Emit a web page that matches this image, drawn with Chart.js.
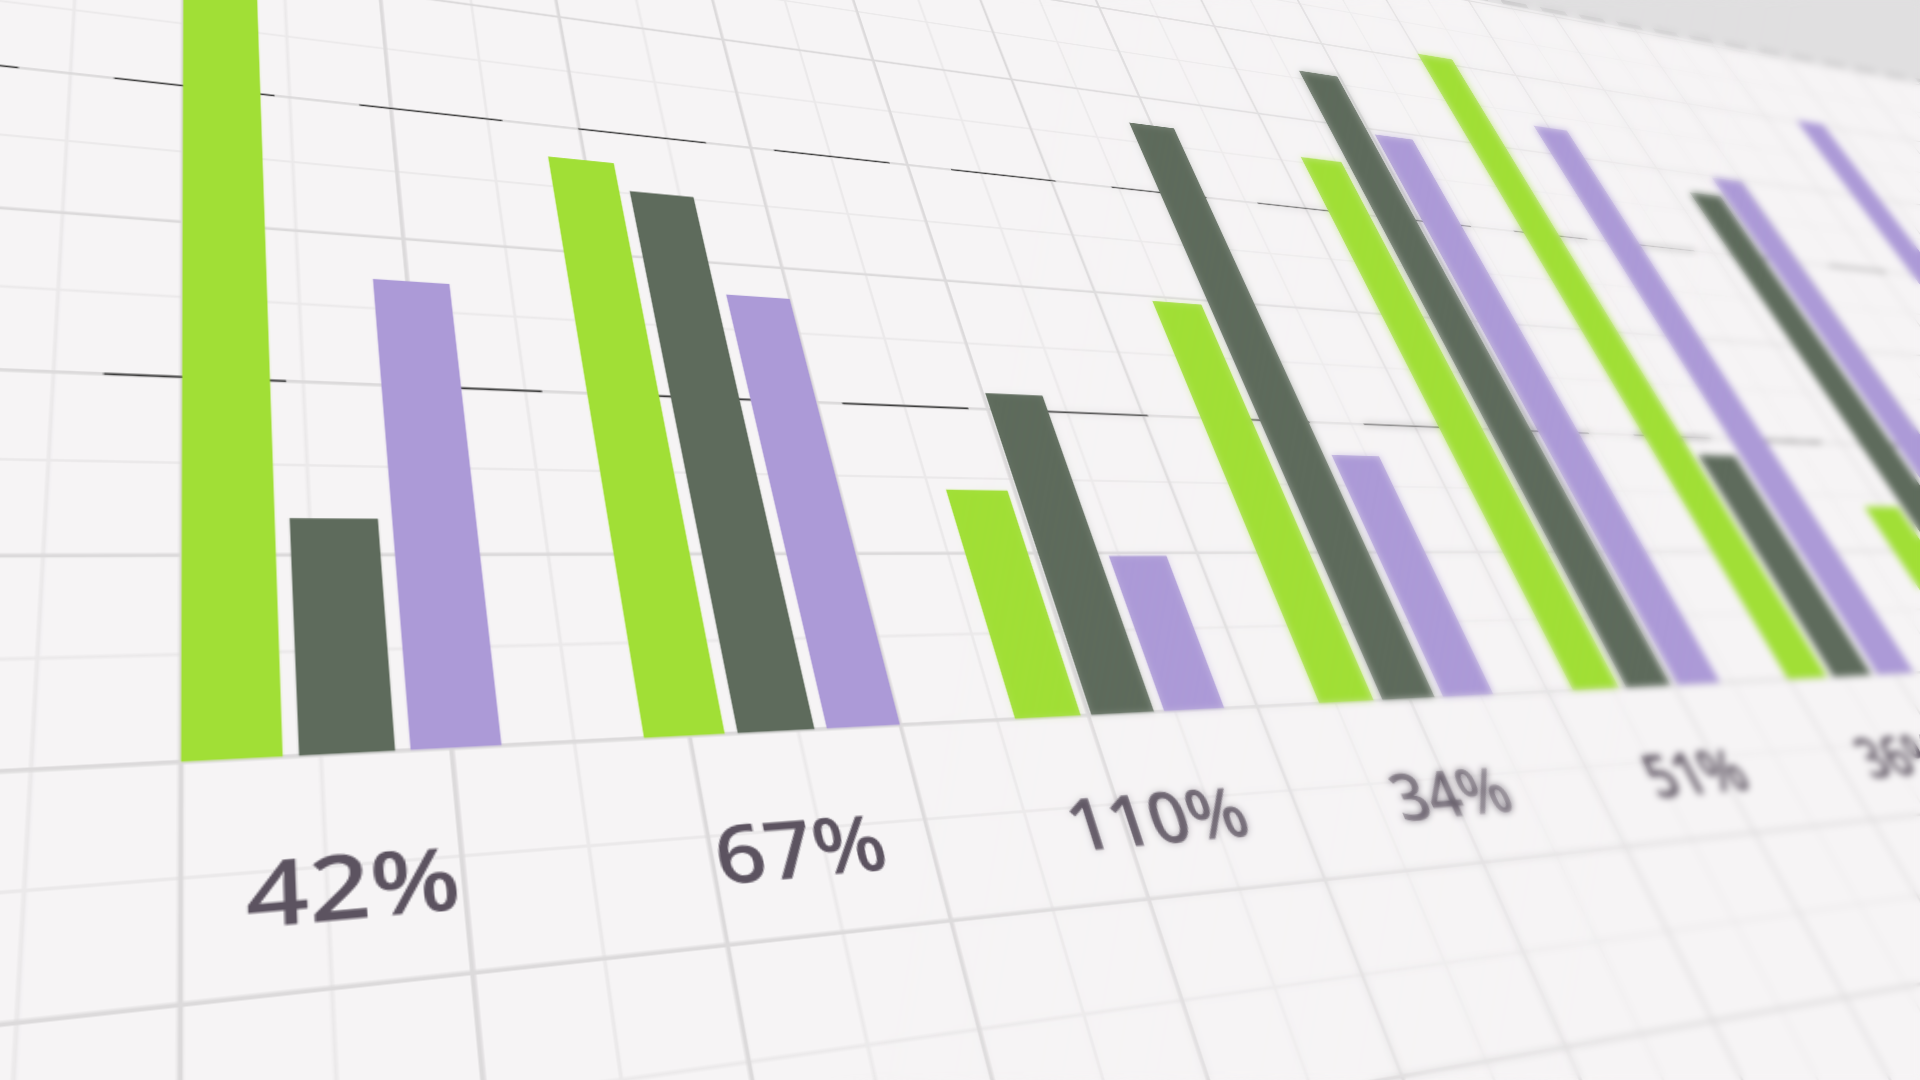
<!DOCTYPE html>
<html>
<head>
<meta charset="utf-8">
<title>Bar chart</title>
<script src="https://cdn.jsdelivr.net/npm/chart.js@4.4.1/dist/chart.umd.min.js"></script>
<style>
    html, body { margin: 0; width: 1920px; height: 1080px; overflow: hidden; background: #f3f2f3; }
    #plane { position: absolute; left: 0; top: 0; width: 2500px; height: 1575px; transform-origin: 0 0; }
    #dof {
        position: absolute; left: 0; top: 0; width: 1920px; height: 1080px; pointer-events: none;
        backdrop-filter: blur(3.5px);
        -webkit-mask-image: linear-gradient(100deg, transparent 48%, #000 86%);
        mask-image: linear-gradient(100deg, transparent 48%, #000 86%);
    }
</style>
</head>
<body>
<div id="plane"><canvas id="myChart" width="2500" height="1575"></canvas></div>
<div id="dof"></div>
<script>
const categories = ['42%', '67%', '110%', '34%', '51%', '36%', '58%', '73%'];
const greenValues = [290, 187, 71, 148, 228, 304, 70, 110];
const darkValues = [60, 176, 106, 235, 280, 92, 237, 140];
const lilacValues = [135, 138, 49, 87, 247, 267, 249, 301];
const dashedLevels = [100, 200];

// layout of the flat chart before it is tilted into the picture
const canvasW = 2500, canvasH = 1575;
const padLeft = 120, padRight = 460;
const yMin = -140, yMax = 450;
const catPct = 0.7, barPct = 0.86;
const gridStep = 0.278;          // background grid, in categories
const dashOn = 0.41, dashOff = 0.23, dashStart = -0.172;

// camera: vanishing points of the chart's horizontal and vertical lines,
// and where the bottom-left corner of the first bar lands on screen
const vpH = [4384, 545], vpV = [189, -2020], corner = [181, 762];
const pPerCat = 0.1238, qPerHundred = 0.1606;

function planeTransform() {
    const cat = (canvasW - padLeft - padRight) / categories.length;
    const step = cat * catPct / 3;
    const u0 = padLeft + cat / 2 - cat * catPct / 2 + (step - step * barPct) / 2;
    const pxPerUnit = canvasH / (yMax - yMin);
    const y0 = yMax * pxPerUnit;
    const g = pPerCat / cat;
    const h = -qPerHundred / (100 * pxPerUnit);
    const w0 = 1 - g * u0 - h * y0;
    const A = vpH[0] * g, B = vpV[0] * h, C = corner[0] - vpH[0] * g * u0 - vpV[0] * h * y0;
    const D = vpH[1] * g, E = vpV[1] * h, F = corner[1] - vpH[1] * g * u0 - vpV[1] * h * y0;
    const m = [A, D, 0, g, B, E, 0, h, 0, 0, 1, 0, C, F, 0, w0].map(v => v / w0);
    m[10] = 1;
    return 'matrix3d(' + m.join(',') + ')';
}

const paper = {
    id: 'paper',
    beforeDraw(chart) {
        const { ctx, scales: { x, y } } = chart;
        const bar = chart.getDatasetMeta(0).data[0];
        const cat = x.getPixelForValue(1) - x.getPixelForValue(0);
        const x0 = bar.x - bar.width / 2;
        ctx.save();
        ctx.fillStyle = '#f6f4f5';
        ctx.fillRect(0, 0, chart.width, chart.height);
        [['#ebe9ea', 2, 1], ['#dcdadb', 2.6, 0]].forEach(([color, width, odd]) => {
            ctx.strokeStyle = color;
            ctx.lineWidth = width;
            ctx.beginPath();
            for (let k = -12; k <= 24; k++) {
                if (Math.abs(k % 2) !== odd) continue;
                const py = y.getPixelForValue(k * 25);
                ctx.moveTo(0, py);
                ctx.lineTo(chart.width, py);
            }
            for (let k = -6; k <= 45; k++) {
                if (Math.abs(k % 2) !== odd) continue;
                const px = x0 + k * gridStep * cat;
                ctx.moveTo(px, 0);
                ctx.lineTo(px, chart.height);
            }
            ctx.stroke();
        });
        // grey edge of the sheet
        const edge = y.getPixelForValue(352);
        ctx.fillStyle = '#e0dfe0';
        ctx.fillRect(0, 0, chart.width, edge);
        ctx.strokeStyle = '#c6c5c6';
        ctx.lineWidth = 8;
        ctx.setLineDash([40, 22]);
        ctx.beginPath();
        ctx.moveTo(0, edge - 6);
        ctx.lineTo(chart.width, edge - 6);
        ctx.stroke();
        ctx.restore();
    },
    beforeDatasetsDraw(chart) {
        const { ctx, scales: { x, y } } = chart;
        const bar = chart.getDatasetMeta(0).data[0];
        const cat = x.getPixelForValue(1) - x.getPixelForValue(0);
        const period = (dashOn + dashOff) * cat;
        let start = bar.x - bar.width / 2 + dashStart * cat;
        start -= Math.ceil(start / period) * period;
        ctx.save();
        ctx.strokeStyle = '#3a3a3a';
        ctx.lineWidth = 1.6;
        ctx.setLineDash([dashOn * cat, dashOff * cat]);
        dashedLevels.forEach(level => {
            const py = y.getPixelForValue(level);
            ctx.beginPath();
            ctx.moveTo(start, py);
            ctx.lineTo(chart.width, py);
            ctx.stroke();
        });
        ctx.restore();
    }
};

document.addEventListener('DOMContentLoaded', () => {
    document.getElementById('plane').style.transform = planeTransform();

    const ctx = document.getElementById('myChart').getContext('2d');
    new Chart(ctx, {
        type: 'bar',
        data: {
            labels: categories,
            datasets: [
                { label: 'A', data: greenValues, backgroundColor: '#a1df36' },
                { label: 'B', data: darkValues, backgroundColor: '#5e6b5c' },
                { label: 'C', data: lilacValues, backgroundColor: '#ac9ad7' }
            ]
        },
        options: {
            responsive: false,
            animation: false,
            devicePixelRatio: 2,
            layout: { padding: { left: padLeft, right: padRight, top: 0, bottom: 0 } },
            datasets: {
                bar: { categoryPercentage: catPct, barPercentage: barPct, borderWidth: 0 }
            },
            scales: {
                x: {
                    position: { y: 0 },
                    grid: { display: false },
                    border: { display: false },
                    ticks: {
                        color: '#5c5360',
                        padding: 44,
                        font: { family: 'Open Sans', size: 51, weight: '600' }
                    }
                },
                y: {
                    display: false,
                    min: yMin,
                    max: yMax
                }
            },
            plugins: {
                legend: { display: false },
                tooltip: { enabled: false }
            }
        },
        plugins: [paper]
    });
});
</script>
</body>
</html>
